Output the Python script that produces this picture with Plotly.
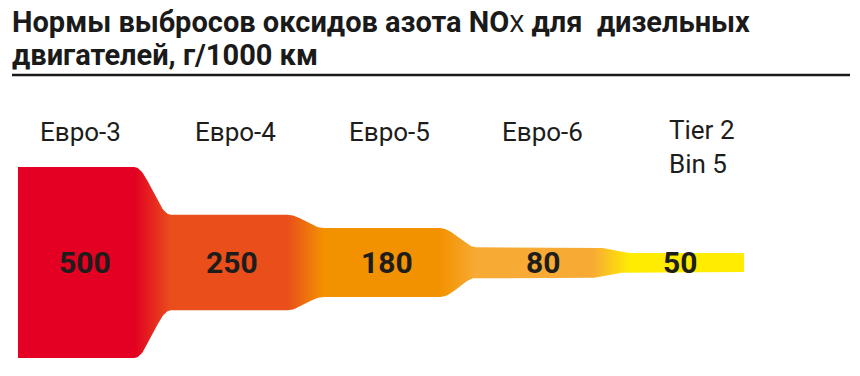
import numpy as np
import plotly.graph_objects as go

# ---- data ----
categories = ["Евро-3", "Евро-4", "Евро-5", "Евро-6", "Tier 2<br>Bin 5"]
values = [500, 250, 180, 80, 50]
value_labels = ["500", "250", "180", "80", "50"]
colors = ["#E30022", "#E94E1B", "#F39200", "#F7AB35", "#FFEC00"]

title_line1 = "Нормы выбросов оксидов азота NO<span style='font-weight:normal;font-size:24px'>X</span> для  дизельных"
title_line2 = "двигателей, г/1000 км"

# ---- geometry (style) ----
flat = 0.76      # share of a cell that is flat before neck
last_len = 0.745 # length of last segment
n = len(values)

xs_top, ys_top = [], []
for i, v in enumerate(values):
    h = v / 2
    if i == 0:
        xs_top += [0, 0]
        ys_top += [0, h]
    if i < n - 1:
        h2 = values[i + 1] / 2
        t = np.linspace(0, 1, 40)
        s = (1 - np.cos(np.pi * t)) / 2
        xs_top += list(i + flat + (1 - flat) * t)
        ys_top += list(h + (h2 - h) * s)
    else:
        xs_top += [i + last_len]
        ys_top += [h]

xs_top = np.array(xs_top)
ys_top = np.array(ys_top)
xs = np.concatenate([xs_top, xs_top[::-1]])
ys = np.concatenate([ys_top, -ys_top[::-1]])

x_end = n - 1 + last_len
stops = []
for i, c in enumerate(colors):
    a = i / x_end
    b = (i + flat) / x_end if i < n - 1 else 1.0
    stops.append([a, c])
    stops.append([min(b, 1.0), c])
stops[0][0] = 0.0

fig = go.Figure()
fig.add_trace(go.Scatter(
    x=xs, y=ys, mode="lines", fill="toself",
    line=dict(width=0),
    fillgradient=dict(type="horizontal", colorscale=stops, start=0, stop=x_end),
    hoverinfo="skip", showlegend=False,
))

label_font = dict(family="Roboto", size=26, color="#1d1d1b")
value_font = dict(family="Roboto", size=30, color="#1d1d1b")

label_off = [0.41, 0.42, 0.43, 0.43, 0.24]
value_off = [0.44, 0.40, 0.41, 0.43, 0.33]
for i, (cat, v, vl) in enumerate(zip(categories, values, value_labels)):
    if i < n - 1:
        fig.add_annotation(x=i + label_off[i], y=342, xref="x", yref="y", text=cat,
                           showarrow=False, font=label_font, xanchor="center", yanchor="middle")
    else:
        fig.add_annotation(x=i + label_off[i], y=342, xref="x", yref="y", text=cat,
                           showarrow=False, font=label_font, xanchor="left", yanchor="top",
                           align="left", yshift=19)
    fig.add_annotation(x=i + value_off[i], y=0, xref="x", yref="y", text="<b>" + vl + "</b>",
                       showarrow=False, font=value_font, xanchor="center", yanchor="middle")

title_font = dict(family="Roboto", size=29, color="#1a1a1a")
fig.add_annotation(x=10 / 860, y=1 - 22 / 376, xref="paper", yref="paper", text="<b>" + title_line1 + "</b>",
                   showarrow=False, font=title_font, xanchor="left", yanchor="middle", align="left")
fig.add_annotation(x=10 / 860, y=1 - 55 / 376, xref="paper", yref="paper", text="<b>" + title_line2 + "</b>",
                   showarrow=False, font=title_font, xanchor="left", yanchor="middle", align="left")
fig.add_shape(type="line", xref="paper", yref="paper", x0=12 / 860, x1=850 / 860,
              y0=1 - 75 / 376, y1=1 - 75 / 376, line=dict(color="#1a1a1a", width=2.5))

fig.update_layout(
    width=860, height=376,
    margin=dict(l=0, r=0, t=0, b=0),
    paper_bgcolor="white", plot_bgcolor="white",
    xaxis=dict(range=[-18 / 153, 842 / 153], visible=False, fixedrange=True),
    yaxis=dict(range=[-297, 687], visible=False, fixedrange=True),
    showlegend=False,
)

fig.write_html("out.html", config={"displayModeBar": False})
